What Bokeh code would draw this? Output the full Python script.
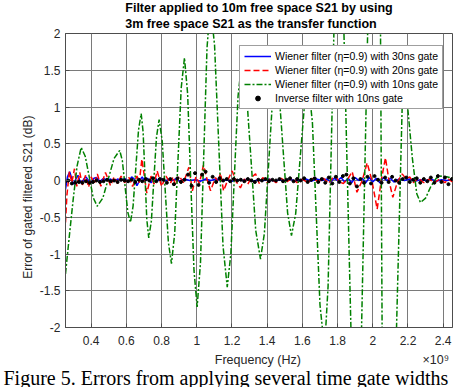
import numpy as np
from bokeh.plotting import figure
from bokeh.models import (Range1d, FixedTicker, Legend, LegendItem, Title,
                          NumeralTickFormatter)
from bokeh.embed import file_html
from bokeh.resources import INLINE

# ---------------- data (frequency in GHz, shown with x10^9 multiplier) ----------------
TITLE_TEXT = ("Filter applied to 10m free space S21 by using\n"
              "3m free space S21 as the transfer function")
X_LABEL = "Frequency (Hz)"
Y_LABEL = "Error of gated filtered S21 (dB)"
X_MULT = "\u00d710\u2079"
CAPTION = "Figure 5. Errors from applying several time gate widths"
X_TICKS = [0.4, 0.6, 0.8, 1.0, 1.2, 1.4, 1.6, 1.8, 2.0, 2.2, 2.4]
Y_TICKS = [-2, -1.5, -1, -0.5, 0, 0.5, 1, 1.5, 2]
NAMES = ["Wiener filter (\u03b7=0.9) with 30ns gate",
         "Wiener filter (\u03b7=0.9) with 20ns gate",
         "Wiener filter (\u03b7=0.9) with 10ns gate",
         "Inverse filter with 10ns gate"]

wiener30_f = [0.254, 0.265, 0.278, 0.290, 0.300, 0.313, 0.325, 0.335, 0.345, 0.358,
              0.370, 0.385, 0.400, 0.415, 0.430, 0.450, 0.470, 0.490, 0.510, 0.530,
              0.550, 0.570, 0.590, 0.610, 0.630, 0.645, 0.660, 0.675, 0.690, 0.705,
              0.720, 0.740, 0.760, 0.780, 0.800, 0.820, 0.840, 0.860, 0.880, 0.900,
              0.930, 0.960, 0.990, 1.020, 1.050, 1.080, 1.110, 1.140, 1.170, 1.200,
              1.230, 1.260, 1.290, 1.320, 1.350, 1.380, 1.410, 1.440, 1.470, 1.500,
              1.530, 1.560, 1.590, 1.620, 1.650, 1.680, 1.710, 1.740, 1.760, 1.780,
              1.800, 1.820, 1.840, 1.860, 1.880, 1.900, 1.920, 1.940, 1.960, 1.980,
              2.000, 2.020, 2.040, 2.060, 2.080, 2.100, 2.120, 2.150, 2.180, 2.210,
              2.240, 2.270, 2.300, 2.330, 2.360, 2.390, 2.420, 2.453]
wiener30_err = [-0.12, 0.05, 0.12, 0.02, -0.05, 0.02, 0.07, 0.00, -0.04, 0.02,
                0.05, 0.00, -0.03, 0.03, 0.04, -0.01, 0.03, 0.00, 0.02, -0.01,
                0.02, 0.00, 0.03, -0.02, 0.05, 0.02, -0.07, 0.00, 0.05, -0.02,
                0.03, -0.03, 0.04, 0.00, 0.02, -0.01, 0.02, 0.00, 0.02, -0.01,
                0.02, 0.00, 0.01, -0.01, 0.02, 0.00, 0.02, 0.00, 0.01, -0.01,
                0.01, 0.00, 0.02, -0.01, 0.01, 0.00, 0.02, -0.01, 0.01, 0.00,
                0.02, -0.01, 0.01, 0.02, -0.01, 0.02, 0.00, 0.02, -0.02, 0.03,
                0.00, 0.04, -0.02, 0.03, -0.03, 0.04, 0.00, 0.03, -0.03, 0.04,
                -0.02, 0.03, -0.03, 0.04, 0.00, 0.03, -0.02, 0.02, 0.00, 0.02,
                -0.01, 0.01, 0.00, 0.02, -0.01, 0.01, 0.00, 0.01]

wiener20_f = [0.254, 0.262, 0.276, 0.290, 0.305, 0.318, 0.335, 0.350, 0.368, 0.385,
              0.400, 0.418, 0.435, 0.455, 0.481, 0.510, 0.530, 0.550, 0.570, 0.590,
              0.615, 0.635, 0.660, 0.673, 0.688, 0.716, 0.740, 0.757, 0.775, 0.800,
              0.825, 0.850, 0.865, 0.879, 0.900, 0.925, 0.955, 0.975, 0.995, 1.015,
              1.038, 1.058, 1.078, 1.106, 1.120, 1.135, 1.152, 1.175, 1.201, 1.225,
              1.248, 1.270, 1.290, 1.310, 1.334, 1.355, 1.375, 1.400, 1.420, 1.450,
              1.480, 1.510, 1.540, 1.570, 1.600, 1.630, 1.660, 1.690, 1.720, 1.750,
              1.770, 1.788, 1.810, 1.833, 1.860, 1.883, 1.910, 1.940, 1.968, 1.995,
              2.025, 2.048, 2.072, 2.092, 2.114, 2.140, 2.167, 2.190, 2.210, 2.230,
              2.260, 2.290, 2.320, 2.350, 2.380, 2.410, 2.430, 2.453]
wiener20_err = [-0.57, -0.20, 0.12, -0.03, 0.16, -0.08, 0.11, -0.06, 0.07, -0.09,
                0.05, -0.04, 0.09, -0.08, 0.11, -0.07, 0.05, -0.04, 0.06, -0.03,
                0.04, -0.08, 0.06, -0.03, 0.29, -0.17, 0.06, -0.05, 0.13, -0.08,
                0.06, -0.04, 0.05, -0.06, 0.06, -0.03, 0.18, -0.14, 0.05, -0.04,
                0.21, 0.02, -0.14, 0.04, -0.02, 0.10, -0.14, 0.00, 0.13, -0.02,
                -0.10, 0.02, -0.05, 0.04, 0.09, -0.04, 0.04, -0.03, 0.03, -0.03,
                0.03, -0.02, 0.03, -0.03, 0.02, -0.03, 0.03, -0.02, 0.03, -0.04,
                0.03, 0.06, -0.02, -0.04, 0.03, 0.12, -0.16, 0.00, 0.24, 0.00,
                -0.39, 0.00, 0.31, 0.00, -0.23, -0.02, 0.09, 0.02, 0.05, -0.03,
                0.03, -0.03, 0.02, -0.03, 0.02, -0.03, 0.02, -0.02]

wiener10_f = [0.254, 0.276, 0.298, 0.320, 0.343, 0.366, 0.389, 0.411, 0.434, 0.466,
              0.498, 0.530, 0.562, 0.577, 0.5925, 0.608, 0.623, 0.638, 0.6535, 0.669,
              0.684, 0.695, 0.7055, 0.716, 0.727, 0.742, 0.7565, 0.771, 0.786, 0.8035,
              0.821, 0.8385, 0.856, 0.8745, 0.893, 0.9115, 0.930, 0.948, 0.966, 0.984,
              1.002, 1.021, 1.0395, 1.058, 1.077, 1.101, 1.125, 1.149, 1.173, 1.1935,
              1.214, 1.2345, 1.255, 1.282, 1.3085, 1.335, 1.362, 1.384, 1.406, 1.428,
              1.450, 1.472, 1.494, 1.516, 1.538, 1.562, 1.5865, 1.611, 1.635, 1.657,
              1.6785, 1.700, 1.726, 1.746, 1.766, 1.786, 1.806, 1.831, 1.8565, 1.882,
              1.907, 1.932, 1.957, 1.982, 2.010, 2.035, 2.044, 2.053, 2.070, 2.090,
              2.112, 2.135, 2.167, 2.180, 2.200, 2.225, 2.250, 2.271, 2.300, 2.330,
              2.360, 2.385, 2.420, 2.453]
wiener10_err = [-1.27, -0.75, -0.25, 0.20, 0.45, 0.33, 0.05, -0.23, -0.35, -0.24,
                0.03, 0.30, 0.41, 0.27, -0.08, -0.43, -0.57, -0.35, 0.17, 0.69,
                0.91, 0.66, 0.07, -0.53, -0.78, -0.55, 0.03, 0.59, 0.83, 0.54,
                -0.15, -0.84, -1.13, -0.72, 0.27, 1.26, 1.67, 1.18, -0.03, -1.22,
                -1.72, -1.12, 0.34, 1.80, 2.40, 1.84, 0.48, -0.89, -1.45, -1.00,
                0.08, 1.15, 1.60, 1.21, 0.27, -0.68, -1.07, -0.72, 0.14, 1.00,
                1.35, 1.04, 0.30, -0.44, -0.75, -0.45, 0.28, 1.00, 1.30, 0.79,
                -0.45, -1.69, -2.30, -1.44, 0.65, 2.74, 3.60, 2.53, -0.05, -2.63,
                -3.70, -2.50, 0.40, 3.30, 5.00, 4.00, 2.00, -2.00, -5.00, -6.00,
                -4.50, -2.00, 1.00, 1.35, 0.95, 0.30, -0.18, -0.30, -0.24, -0.08,
                0.03, 0.06, 0.05, 0.03]

inverse10_f = list(np.round(np.arange(0.25, 2.4501, 0.02), 3))
inverse10_err = [-0.02, 0.00, -0.04, -0.03, -0.02, -0.03, -0.01, -0.03, -0.02, 0.00,
                 -0.02, -0.01, 0.01, -0.01, 0.00, -0.02, 0.01, 0.00, -0.01, 0.01,
                 -0.02, 0.01, -0.01, 0.02, 0.00, 0.03, -0.01, 0.02, 0.01, -0.03,
                 0.02, -0.05, 0.03, -0.02, 0.01, 0.08, -0.07, 0.10, -0.06, 0.08,
                 0.12, -0.03, 0.05, -0.02, 0.03, 0.00, 0.02, -0.01, 0.02, 0.00,
                 0.01, -0.01, 0.02, 0.00, -0.02, 0.01, 0.00, 0.02, -0.01, 0.01,
                 0.00, 0.02, -0.01, 0.01, 0.03, -0.01, 0.02, 0.00, 0.03, -0.02,
                 0.01, 0.03, -0.02, 0.02, -0.03, 0.04, -0.04, 0.05, -0.02, 0.06,
                 0.08, -0.04, 0.03, -0.08, 0.02, -0.03, 0.05, -0.04, 0.06, 0.01,
                 -0.03, 0.04, -0.02, 0.05, 0.00, -0.03, 0.02, 0.04, -0.02, 0.01,
                 0.03, -0.03, 0.02, -0.01, 0.04, -0.03, 0.06, -0.02, 0.04, -0.05,
                 0.02]
inverse10_f = inverse10_f[:len(inverse10_err)]

# ---------------- figure ----------------
W, H = 474, 387
FL, FR, FT, FB = 65, 452, 32, 327   # frame edges in px
p = figure(width=W, height=H, output_backend="svg", toolbar_location=None,
           x_range=Range1d(0.254, 2.453), y_range=Range1d(-2, 2),
           min_border_left=FL, min_border_right=W - FR,
           min_border_top=FT, min_border_bottom=H - FB)
p.background_fill_color = "white"
p.border_fill_color = "white"
p.outline_line_color = "#4d4d4d"
p.outline_line_width = 1

# title (two lines)
p.title.text = TITLE_TEXT
p.title.align = "center"
p.title.vertical_align = "top"
p.title.text_font = "Liberation Sans"
p.title.text_font_size = "12.5px"
p.title.text_font_style = "bold"
p.title.text_color = "black"
p.title.text_line_height = 1.2
p.title.standoff = 0

p.xaxis.ticker = FixedTicker(ticks=X_TICKS)
p.yaxis.ticker = FixedTicker(ticks=Y_TICKS)
p.axis.formatter = NumeralTickFormatter(format="0.[0]")
p.axis.axis_line_color = "#4d4d4d"
p.axis.major_tick_line_color = "#4d4d4d"
p.axis.major_tick_in = 4
p.axis.major_tick_out = 0
p.axis.minor_tick_line_color = None
p.axis.major_label_text_font = "Liberation Sans"
p.axis.major_label_text_font_size = "12px"
p.axis.major_label_text_color = "#262626"
p.xaxis.major_label_standoff = 8
p.yaxis.major_label_standoff = 5

NB = "\u00a0"
# x label with the x10^9 multiplier at the right end of the same row
p.xaxis.axis_label = NB * 42 + X_LABEL + NB * 35 + X_MULT
p.xaxis.axis_label_text_font = "Liberation Sans"
p.xaxis.axis_label_text_font_size = "12.5px"
p.xaxis.axis_label_text_font_style = "normal"
p.xaxis.axis_label_text_color = "#262626"
p.xaxis.axis_label_standoff = 5

# y label, shifted a little towards the bottom like the reference
p.yaxis.axis_label = Y_LABEL + NB * 10
p.yaxis.axis_label_text_font = "Liberation Sans"
p.yaxis.axis_label_text_font_size = "12px"
p.yaxis.axis_label_text_font_style = "normal"
p.yaxis.axis_label_text_color = "#262626"
p.yaxis.axis_label_standoff = 2

p.grid.grid_line_color = "#7a7a7a"
p.grid.grid_line_alpha = 1
p.grid.grid_line_width = 1

r30 = p.line(wiener30_f, wiener30_err, line_color="#0000ff", line_width=1.5)
r20 = p.line(wiener20_f, wiener20_err, line_color="#ff0000", line_width=1.5,
             line_dash="6 3")
r10 = p.line(wiener10_f, wiener10_err, line_color="#008000", line_width=1.5,
             line_dash="6 2 2 2")
rinv = p.scatter(inverse10_f, inverse10_err, marker="circle", size=3,
                 fill_color="black", line_color="black")

legend = Legend(items=[LegendItem(label=NAMES[0], renderers=[r30]),
                       LegendItem(label=NAMES[1], renderers=[r20]),
                       LegendItem(label=NAMES[2], renderers=[r10]),
                       LegendItem(label=NAMES[3], renderers=[rinv])],
                location=(174, 218))
legend.label_text_font = "Liberation Sans"
legend.label_text_font_size = "10.5px"
legend.label_text_color = "black"
legend.glyph_width = 27
legend.glyph_height = 12
legend.label_height = 12
legend.spacing = 2
legend.padding = 4
legend.margin = 0
legend.label_standoff = 4
legend.border_line_color = "#404040"
legend.border_line_width = 1
legend.background_fill_color = "white"
legend.background_fill_alpha = 1
p.add_layout(legend)

# caption under the chart
cap = Title(text=CAPTION, align="left", offset=-62, vertical_align="top",
            standoff=-6, text_font="Liberation Serif", text_font_size="20px",
            text_font_style="normal", text_color="black")
p.add_layout(cap, "below")

open("out.html", "w").write(file_html(p, INLINE))
